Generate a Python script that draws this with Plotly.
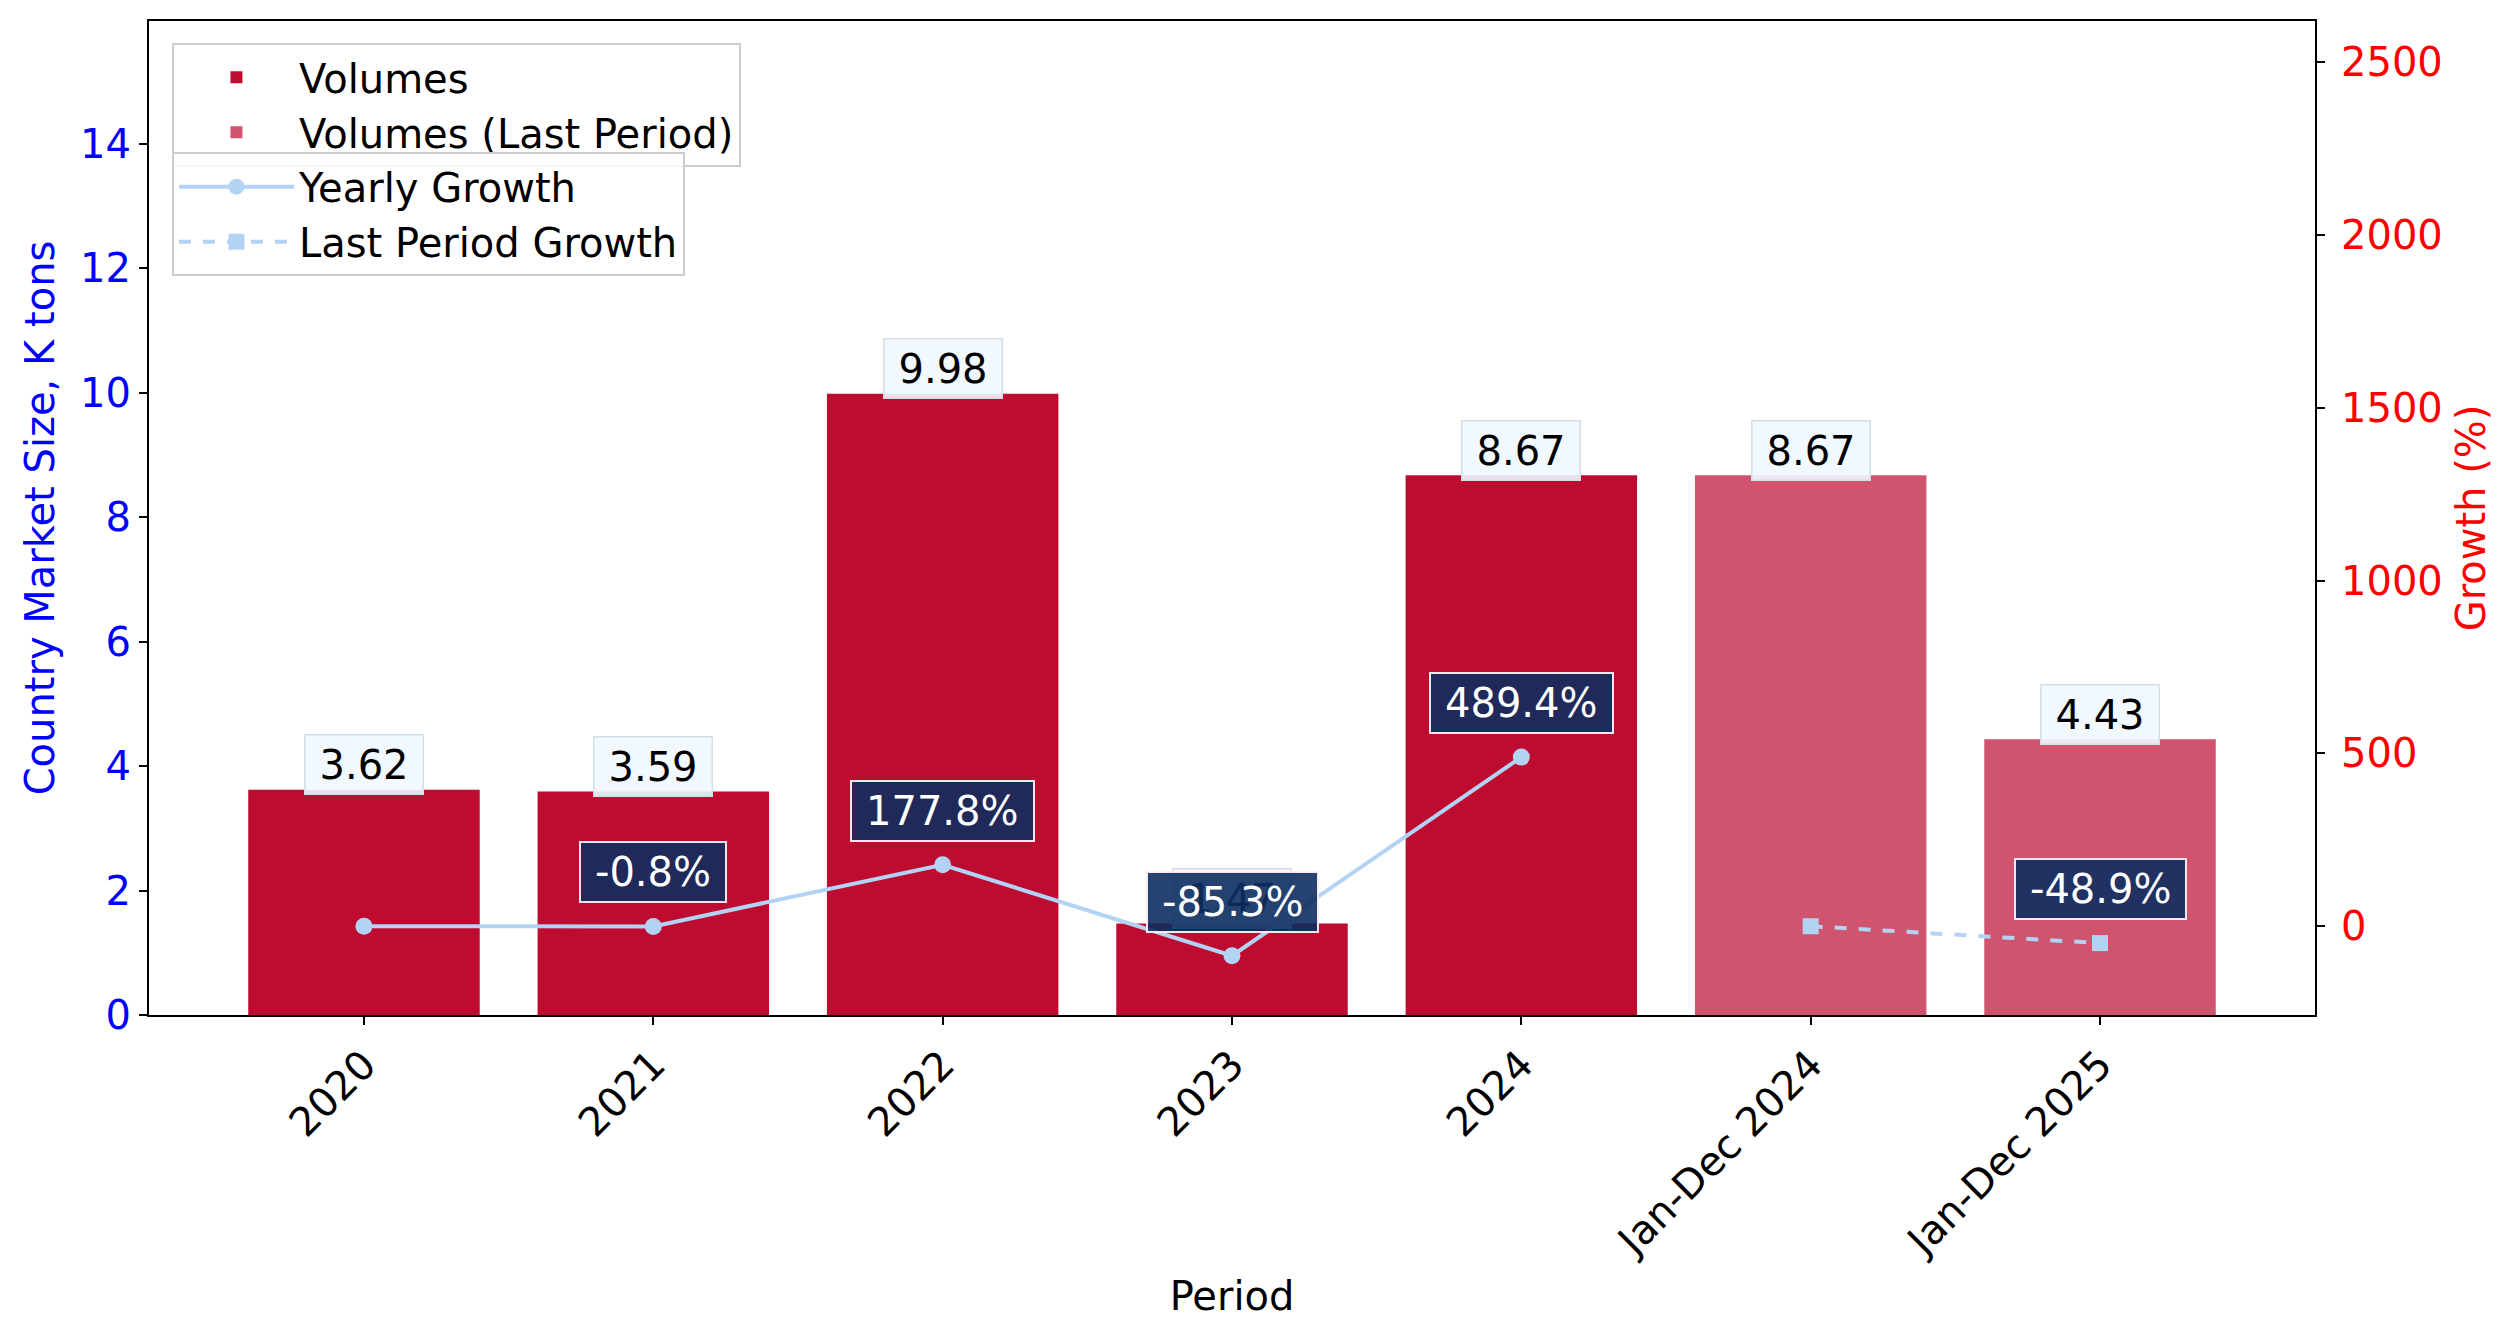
import plotly.graph_objects as go

# ---- data ----
periods = ["2020", "2021", "2022", "2023", "2024", "Jan-Dec 2024", "Jan-Dec 2025"]
year_periods = ["2020", "2021", "2022", "2023", "2024"]
last_periods = ["Jan-Dec 2024", "Jan-Dec 2025"]
volumes = [3.62, 3.59, 9.98, 1.47, 8.67]
last_volumes = [8.67, 4.43]
yearly_growth = [0.0, -0.8, 177.8, -85.3, 489.4]
last_growth = [0.0, -48.9]

y_ticks = [0, 2, 4, 6, 8, 10, 12, 14]
y2_ticks = [0, 500, 1000, 1500, 2000, 2500]

BAR = "rgb(190,11,48)"
BAR_LAST = "rgba(190,11,48,0.7)"
LINE = "#B3D3F5"
FONT = "DejaVu Sans"
FS = 40
TH = "\u2009"

fig = go.Figure()
fig.add_trace(go.Bar(x=year_periods, y=volumes, name="Volumes", marker_color=BAR,
                     marker_line_width=0, width=0.8, legend="legend"))
fig.add_trace(go.Bar(x=last_periods, y=last_volumes, name="Volumes (Last Period)",
                     marker_color=BAR_LAST, marker_line_width=0, width=0.8, legend="legend"))
fig.add_trace(go.Scatter(x=year_periods, y=yearly_growth, name="Yearly Growth", yaxis="y2",
                         mode="lines+markers", line=dict(color=LINE, width=4),
                         marker=dict(symbol="circle", size=17, color=LINE), legend="legend2"))
fig.add_trace(go.Scatter(x=last_periods, y=last_growth, name="Last Period Growth", yaxis="y2",
                         mode="lines+markers", line=dict(color=LINE, width=4, dash="dash"),
                         marker=dict(symbol="square", size=16, color=LINE), legend="legend2"))

# category index lookup (numeric-looking category names must be addressed by index)
idx = {p: i for i, p in enumerate(periods)}

annotations = []
all_vols = volumes + last_volumes
for p, v in zip(periods, all_vols):
    annotations.append(dict(x=idx[p], y=v, xref="x", yref="y", text=f"{TH}{v:.2f}{TH}",
                            showarrow=False, yanchor="middle", yshift=25,
                            font=dict(family=FONT, size=FS, color="black"),
                            bgcolor="rgba(240,248,255,0.9)", bordercolor="#D3DEE8",
                            borderwidth=1.5, borderpad=6))
for xs, gs in ((year_periods, yearly_growth), (last_periods, last_growth)):
    for i, (p, g) in enumerate(zip(xs, gs)):
        if i == 0:
            continue
        annotations.append(dict(x=idx[p], y=g, xref="x", yref="y2", text=f"{TH}{g:.1f}%{TH}",
                                showarrow=False, yanchor="middle", yshift=54,
                                font=dict(family=FONT, size=FS, color="white"),
                                bgcolor="rgba(13,46,97,0.9)", bordercolor="rgba(255,240,245,0.95)",
                                borderwidth=2, borderpad=6))

axis_common = dict(showline=True, linecolor="black", linewidth=2, ticks="outside",
                   ticklen=8, tickwidth=1.8, tickcolor="black", showgrid=False,
                   zeroline=False, automargin=False)

fig.update_layout(
    width=2517, height=1338,
    margin=dict(l=149, r=202, t=21, b=323),
    paper_bgcolor="white", plot_bgcolor="white",
    font=dict(family=FONT, size=FS, color="black"),
    barmode="overlay",
    annotations=annotations,
    xaxis=dict(**axis_common, type="category", categoryorder="array", categoryarray=periods,
               range=[-0.743, 6.743], tickangle=-45, mirror=True,
               tickfont=dict(size=FS, color="black"),
               title=dict(text="Period", font=dict(size=FS, color="black"), standoff=18)),
    yaxis=dict(**axis_common, range=[0, 15.97], tickvals=y_ticks,
               tickfont=dict(size=FS, color="blue"),
               title=dict(text="Country Market Size, K tons", font=dict(size=FS, color="blue"),
                          standoff=13)),
    yaxis2=dict(**axis_common, overlaying="y", side="right", range=[-257, 2620],
                tickvals=y2_ticks, tickfont=dict(size=FS, color="red"), ticklabelstandoff=8,
                title=dict(text="Growth (%)", font=dict(size=FS, color="red"), standoff=15)),
    legend=dict(x=0.0106, y=0.978, xanchor="left", yanchor="top",
                bgcolor="rgba(255,255,255,0.8)", bordercolor="#CCCCCC", borderwidth=2,
                font=dict(size=FS, family=FONT), itemwidth=115, traceorder="normal"),
    legend2=dict(x=0.0106, y=0.868, xanchor="left", yanchor="top",
                 bgcolor="rgba(255,255,255,0.8)", bordercolor="#CCCCCC", borderwidth=2,
                 font=dict(size=FS, family=FONT), itemwidth=115, traceorder="normal"),
)

fig.write_html("out.html")
